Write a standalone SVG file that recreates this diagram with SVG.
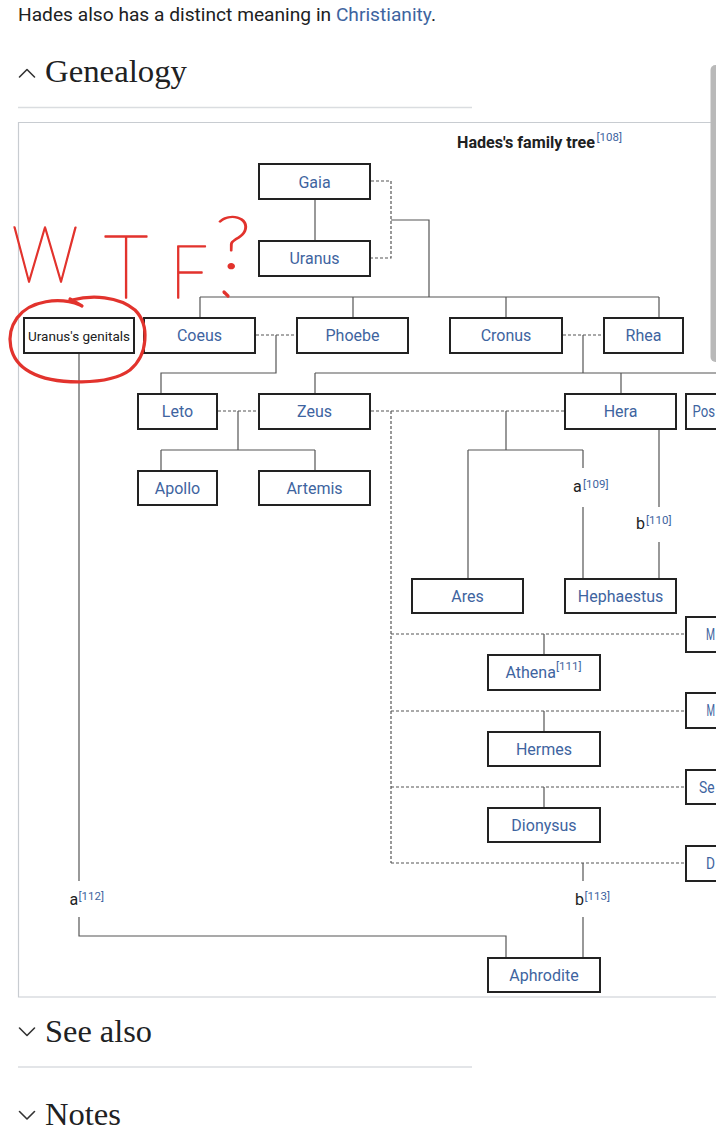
<svg xmlns="http://www.w3.org/2000/svg" width="716" height="1141" viewBox="0 0 716 1141">
<style>
.page{font-family:Roboto,"Liberation Sans",Arial,sans-serif;}
.body{font-size:18px;fill:#202122;}
.link{fill:#3e64a0;}
.head{font-family:"Liberation Serif","DejaVu Serif",serif;font-size:31px;fill:#202122;}
.chev{fill:none;stroke:#333;stroke-width:1.6;stroke-linecap:round;stroke-linejoin:round;}
.rule{stroke:#dadde0;stroke-width:1.5;}
.frame{fill:none;stroke:#c8ccd1;stroke-width:1.2;}
.box{fill:#fff;stroke:#222;stroke-width:2;}
.nt{font-family:Roboto,"Liberation Sans",Arial,sans-serif;font-size:16px;fill:#3e64a0;text-anchor:middle;}
.ntl{font-family:Roboto,"Liberation Sans",Arial,sans-serif;font-size:16px;fill:#3e64a0;}
.sup{font-family:Roboto,"Liberation Sans",Arial,sans-serif;font-size:11.5px;fill:#3e64a0;}
.lbl{font-family:Roboto,"Liberation Sans",Arial,sans-serif;font-size:16px;fill:#202122;}
.solid{fill:none;stroke:#555;stroke-width:1.2;}
.dash{fill:none;stroke:#555;stroke-width:1.2;stroke-dasharray:3 2;}
.red{fill:none;stroke:#e2332d;stroke-width:3.2;stroke-linecap:round;stroke-linejoin:round;}
.redt{font-family:Lato,Inter,"Noto Sans",sans-serif;font-weight:200;fill:#e2332d;stroke:#e2332d;stroke-width:1.6;stroke-linejoin:round;}
</style>
<rect x="0" y="0" width="716" height="1141" fill="#fff"/>

<g class="page">
  <text class="body" x="18" y="20.5" textLength="418" lengthAdjust="spacingAndGlyphs">Hades also has a distinct meaning in <tspan class="link">Christianity</tspan>.</text>
  <path class="chev" d="M19.5,77 L27,69.5 L34.5,77"/>
  <text class="head" x="45" y="82" textLength="142" lengthAdjust="spacingAndGlyphs">Genealogy</text>
  <line class="rule" x1="18" y1="107.5" x2="472" y2="107.5"/>
</g>

<g id="frame">
  <path class="frame" d="M716,122.5 H18.5 V997 H716"/>
  <text x="457" y="148" font-family="Roboto,'Liberation Sans',Arial,sans-serif" font-size="16" font-weight="bold" fill="#202122" textLength="138" lengthAdjust="spacingAndGlyphs">Hades's family tree</text>
  <text class="sup" x="596.5" y="141">[108]</text>
</g>

<g id="connectors">
  <!-- solid -->
  <path class="solid" d="M315,200 V240"/>
  <path class="solid" d="M391,220 H429 V297"/>
  <path class="solid" d="M200,297 H659 M200,297 V317 M353,297 V317 M506,297 V317 M659,297 V317"/>
  <path class="solid" d="M276,335 V373 H161 V393"/>
  <path class="solid" d="M583,335 V373 M315,373 H716 M315,373 V393 M621,373 V393"/>
  <path class="solid" d="M238,411 V450 M161,450 H315 M161,450 V470 M315,450 V470"/>
  <path class="solid" d="M506,411 V450 M468,450 H583 M468,450 V578 M583,450 V468 M583,507 V578"/>
  <path class="solid" d="M659,430 V507 M659,542 V578"/>
  <path class="solid" d="M544,634 V654 M544,711 V731 M544,787 V807"/>
  <path class="solid" d="M583,863 V881 M583,917 V957"/>
  <path class="solid" d="M79,354 V881 M79,917 V936 H506 V957"/>
  <!-- dashed -->
  <path class="dash" d="M371,181 H391 V258 H371"/>
  <path class="dash" d="M256,335 H296"/>
  <path class="dash" d="M563,335 H603"/>
  <path class="dash" d="M218,411 H258"/>
  <path class="dash" d="M371,411 H564"/>
  <path class="dash" d="M391,411 V863"/>
  <path class="dash" d="M391,634 H685 M391,711 H685 M391,787 H685 M391,863 H685"/>
  <!-- labels -->
  <text class="lbl" x="573" y="492">a</text><text class="sup" x="583" y="487.5">[109]</text>
  <text class="lbl" x="636" y="529">b</text><text class="sup" x="646" y="524">[110]</text>
  <text class="lbl" x="69.5" y="905">a</text><text class="sup" x="78.5" y="899.5">[112]</text>
  <text class="lbl" x="575" y="905">b</text><text class="sup" x="584.5" y="899.5">[113]</text>
</g>

<g id="gaia"><rect class="box" x="259" y="164" width="111" height="35"/><text class="nt" x="314.5" y="187.5">Gaia</text></g>
<g id="uranus"><rect class="box" x="259" y="241" width="111" height="35"/><text class="nt" x="314.5" y="264">Uranus</text></g>
<g id="genitals"><rect class="box" x="24" y="318" width="110" height="35"/><text x="79" y="341" font-family="Roboto,'Liberation Sans',Arial,sans-serif" font-size="13.5" fill="#202122" text-anchor="middle" textLength="102" lengthAdjust="spacingAndGlyphs">Uranus's genitals</text></g>
<g id="coeus"><rect class="box" x="144" y="318" width="111" height="35"/><text class="nt" x="199.5" y="341">Coeus</text></g>
<g id="phoebe"><rect class="box" x="297" y="318" width="111" height="35"/><text class="nt" x="352.5" y="341">Phoebe</text></g>
<g id="cronus"><rect class="box" x="450" y="318" width="112" height="35"/><text class="nt" x="506" y="341">Cronus</text></g>
<g id="rhea"><rect class="box" x="604" y="318" width="79" height="35"/><text class="nt" x="643.5" y="341">Rhea</text></g>
<g id="leto"><rect class="box" x="138" y="394" width="79" height="35"/><text class="nt" x="177.5" y="417">Leto</text></g>
<g id="zeus"><rect class="box" x="259" y="394" width="111" height="35"/><text class="nt" x="314.5" y="417">Zeus</text></g>
<g id="hera"><rect class="box" x="565" y="394" width="111" height="35"/><text class="nt" x="620.5" y="417">Hera</text></g>
<g id="poseidon"><rect class="box" x="686" y="394" width="100" height="35"/><text class="ntl" x="692.5" y="417" textLength="22.5" lengthAdjust="spacingAndGlyphs">Pos</text></g>
<g id="apollo"><rect class="box" x="138" y="471" width="79" height="34"/><text class="nt" x="177.5" y="494">Apollo</text></g>
<g id="artemis"><rect class="box" x="259" y="471" width="111" height="34"/><text class="nt" x="314.5" y="494">Artemis</text></g>
<g id="ares"><rect class="box" x="412" y="579" width="111" height="34"/><text class="nt" x="467.5" y="602">Ares</text></g>
<g id="hephaestus"><rect class="box" x="565" y="579" width="111" height="34"/><text class="nt" x="620.5" y="602">Hephaestus</text></g>
<g id="metis"><rect class="box" x="686" y="617" width="80" height="35"/><text class="ntl" x="706" y="640" textLength="9" lengthAdjust="spacingAndGlyphs">M</text></g>
<g id="athena"><rect class="box" x="488" y="655" width="112" height="35"/><text class="ntl" x="505.5" y="677.5">Athena</text><text class="sup" x="556" y="670">[111]</text></g>
<g id="maia"><rect class="box" x="686" y="693" width="80" height="35"/><text class="ntl" x="706.5" y="716" textLength="8.5" lengthAdjust="spacingAndGlyphs">M</text></g>
<g id="hermes"><rect class="box" x="488" y="732" width="112" height="34"/><text class="nt" x="544" y="755">Hermes</text></g>
<g id="semele"><rect class="box" x="686" y="770" width="80" height="34"/><text class="ntl" x="699" y="793" textLength="15.5" lengthAdjust="spacingAndGlyphs">Se</text></g>
<g id="dionysus"><rect class="box" x="488" y="808" width="112" height="34"/><text class="nt" x="544" y="831">Dionysus</text></g>
<g id="dione"><rect class="box" x="686" y="846" width="80" height="35"/><text class="ntl" x="706" y="869" textLength="9" lengthAdjust="spacingAndGlyphs">D</text></g>
<g id="aphrodite"><rect class="box" x="488" y="958" width="112" height="34"/><text class="nt" x="544" y="981">Aphrodite</text></g>

<g id="scrollbar"><rect x="710.5" y="65" width="14" height="297" rx="5" fill="#b9b9b9"/></g>

<g class="page">
  <path class="chev" d="M19.5,1028 L27,1035.5 L34.5,1028"/>
  <text class="head" x="45" y="1042" textLength="107" lengthAdjust="spacingAndGlyphs">See also</text>
  <line class="rule" x1="18" y1="1067" x2="472" y2="1067"/>
  <path class="chev" d="M19.5,1111.5 L27,1119 L34.5,1111.5"/>
  <text class="head" x="45" y="1125" textLength="76" lengthAdjust="spacingAndGlyphs">Notes</text>
</g>

<g id="annotation">
  <text class="redt" x="12" y="282" font-size="78" textLength="66" lengthAdjust="spacingAndGlyphs">W</text>
  <text class="redt" x="104" y="298" font-size="88" textLength="44" lengthAdjust="spacingAndGlyphs">T</text>
  <text class="redt" x="170" y="298" font-size="74" textLength="38" lengthAdjust="spacingAndGlyphs">F</text>
  <text class="redt" x="215" y="268" font-size="72" textLength="36" lengthAdjust="spacingAndGlyphs">?</text>
  <path class="red" d="M224,292 L228,296" stroke-width="1.5"/>
  <path class="red" d="M80,305 C60,297 30,300 17,318 C5,335 8,360 30,372 C55,386 110,385 130,370 C148,355 150,325 135,310 C118,296 92,295 72,300 M70,299 L82,306"/>
</g>
</svg>
